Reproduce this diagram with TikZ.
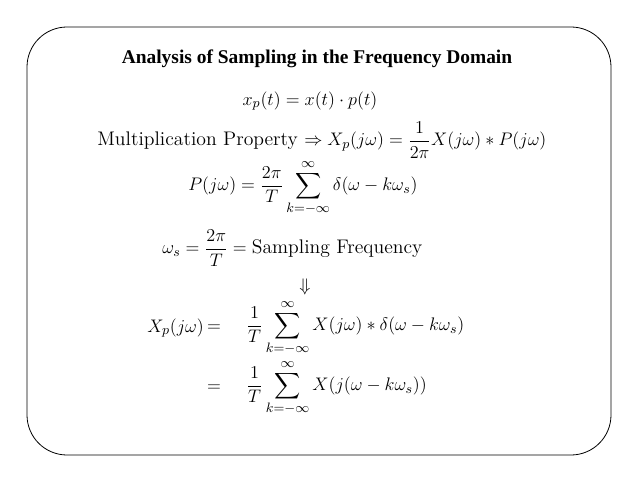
\documentclass[tikz,border=0pt]{standalone}
\usepackage{amsmath}
\usepackage{fontspec}
\newfontfamily\titlefont{Liberation Serif}
\begin{document}
\begin{tikzpicture}[x=1bp,y=-1bp,
  eq/.style={inner sep=0pt,font=\fontsize{13}{15}\selectfont,scale=1.52,transform shape}]
\useasboundingbox (0,0) rectangle (638,478);
\draw[line width=0.8pt,rounded corners=40bp] (27,27) rectangle (611,455);
\node[inner sep=0pt,font=\titlefont\bfseries\fontsize{19.5}{22}\selectfont] (title) at (317,59) {Analysis of Sampling in the Frequency Domain};
\node[eq] (e1) at (310,101) {$x_p(t)=x(t)\cdot p(t)$};
\node[eq,anchor=west] (e2) at (97,140) {Multiplication Property $\Rightarrow X_p(j\omega)=\dfrac{1}{2\pi}X(j\omega)*P(j\omega)$};
\node[eq,anchor=west] (e3) at (188,188) {$P(j\omega)=\dfrac{2\pi}{T}\displaystyle\sum_{k=-\infty}^{\infty}\delta(\omega-k\omega_s)$};
\node[eq,anchor=west] (e4) at (162,248) {$\omega_s=\dfrac{2\pi}{T}=\text{Sampling Frequency}$};
\node[eq] (arr) at (305,287) {$\Downarrow$};
\node[eq,anchor=west] (l1) at (147,328) {$X_p(j\omega)$};
\node[eq] (eq1) at (214,328) {$=$};
\node[eq,anchor=west] (r1) at (246,328) {$\dfrac{1}{T}\displaystyle\sum_{k=-\infty}^{\infty}X(j\omega)*\delta(\omega-k\omega_s)$};
\node[eq] (eq2) at (214,388) {$=$};
\node[eq,anchor=west] (r2) at (246,388) {$\dfrac{1}{T}\displaystyle\sum_{k=-\infty}^{\infty}X(j(\omega-k\omega_s))$};
\end{tikzpicture}
\end{document}
